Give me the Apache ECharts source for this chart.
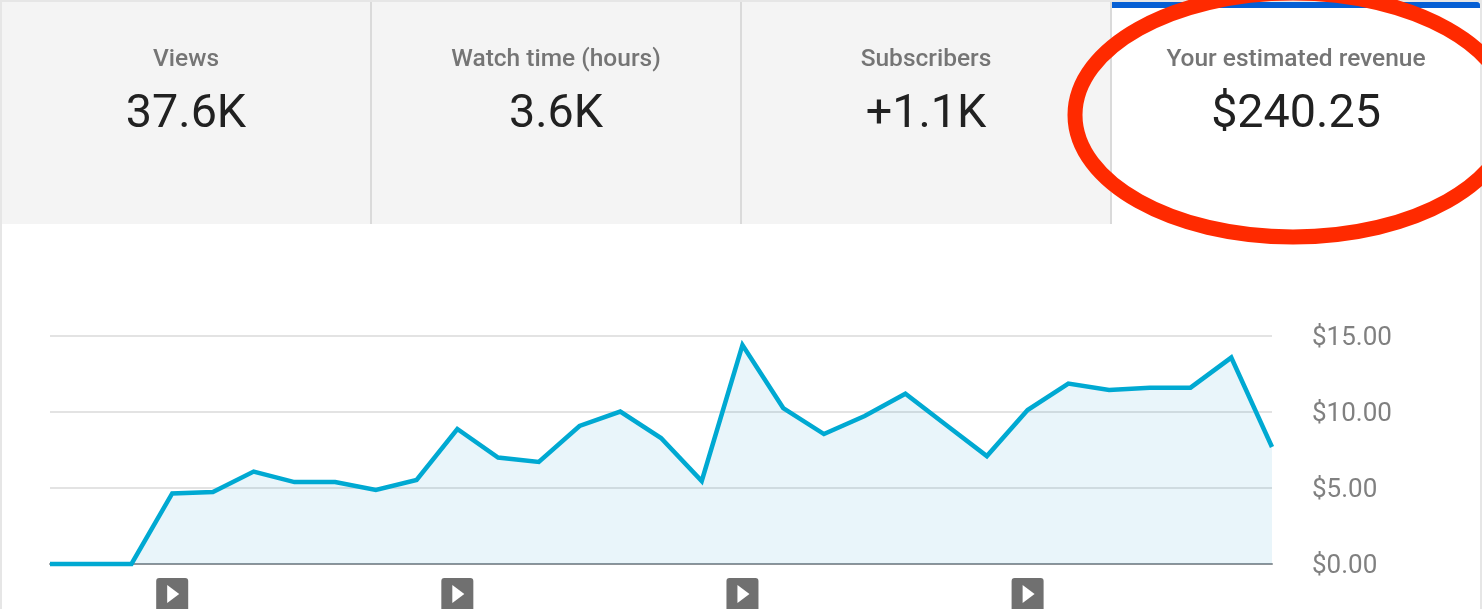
<!DOCTYPE html>
<html>
<head>
<meta charset="utf-8">
<title>Estimated revenue</title>
<style>
    html, body { margin: 0; padding: 0; background: #fff; }
    #chart { width: 1482px; height: 609px; }
</style>
<script src="https://cdn.jsdelivr.net/npm/echarts@6/dist/echarts.min.js"></script>
</head>
<body>
<div id="chart"></div>
<script>
// top tiles
const tileLabels = ['Views', 'Watch time (hours)', 'Subscribers', 'Your estimated revenue'];
const tileValues = ['37.6K', '3.6K', '+1.1K', '$240.25'];

// one value per day
const days = ['1','2','3','4','5','6','7','8','9','10','11','12','13','14','15','16','17','18','19','20','21','22','23','24','25','26','27','28','29','30','31'];
const revenue = [0, 0, 0, 4.64, 4.74, 6.08, 5.39, 5.39, 4.87, 5.53, 8.88, 7.0, 6.71, 9.08, 10.03, 8.29, 5.46, 14.4, 10.26, 8.55, 9.74, 11.2, 9.14, 7.1, 10.13, 11.87, 11.45, 11.6, 11.6, 13.58, 7.7];
const videoDays = ['4', '11', '18', '25'];

const font = 'Roboto';
const tileCenters = [186, 556, 926, 1296];

const chart = echarts.init(document.getElementById('chart'), null, { renderer: 'canvas' });

const tileGraphics = [
    { type: 'rect', shape: { x: 0, y: 0, width: 1482, height: 609 }, style: { fill: '#fff' }, z: -10 },
    { type: 'rect', shape: { x: 2, y: 2, width: 1109, height: 222 }, style: { fill: '#f4f4f4' }, z: -9 },
    { type: 'rect', shape: { x: 0, y: 0, width: 1482, height: 2 }, style: { fill: '#e6e6e6' }, z: -8 },
    { type: 'rect', shape: { x: 0, y: 0, width: 2, height: 609 }, style: { fill: '#e6e6e6' }, z: -8 },
    { type: 'rect', shape: { x: 1480, y: 0, width: 2, height: 609 }, style: { fill: '#e6e6e6' }, z: -8 },
    { type: 'rect', shape: { x: 370, y: 2, width: 2, height: 222 }, style: { fill: '#dadada' }, z: -8 },
    { type: 'rect', shape: { x: 740, y: 2, width: 2, height: 222 }, style: { fill: '#dadada' }, z: -8 },
    { type: 'rect', shape: { x: 1110, y: 2, width: 2, height: 222 }, style: { fill: '#dadada' }, z: -8 },
    { type: 'rect', shape: { x: 1112, y: 2, width: 368, height: 6, r: [0, 3, 0, 0] }, style: { fill: '#065fd4' }, z: -8 }
];

tileLabels.forEach((label, i) => {
    tileGraphics.push({
        type: 'text',
        x: tileCenters[i], y: 60,
        style: { text: label, fill: '#757575', font: '500 24.5px ' + font, align: 'center', verticalAlign: 'middle' },
        z: 1
    });
    tileGraphics.push({
        type: 'text',
        x: tileCenters[i], y: 115,
        style: { text: tileValues[i], fill: '#212121', font: '400 46.7px ' + font, align: 'center', verticalAlign: 'middle' },
        z: 1
    });
});

// the red marker round the last tile
tileGraphics.push({
    type: 'ellipse',
    shape: { cx: 1293, cy: 115, rx: 218, ry: 122 },
    style: { fill: 'none', stroke: '#ff2a00', lineWidth: 15 },
    z: 100
});

const option = {
    animation: false,
    backgroundColor: '#fff',
    grid: { left: 50, right: 210, top: 336, bottom: 45 },
    xAxis: {
        type: 'category',
        data: days,
        boundaryGap: false,
        axisLine: { lineStyle: { color: '#8f9498', width: 2 } },
        axisTick: { show: false },
        axisLabel: { show: false }
    },
    yAxis: {
        type: 'value',
        position: 'right',
        min: 0,
        max: 15,
        interval: 5,
        axisLine: { show: false },
        axisTick: { show: false },
        splitLine: { lineStyle: { color: '#e3e3e3', width: 2 } },
        axisLabel: {
            margin: 40,
            formatter: (v) => '{tick|$' + v.toFixed(2) + '}',
            rich: {
                // the padding pushes the text 2px below the grid line
                tick: { color: '#808080', fontFamily: font, fontSize: 26, padding: [4, 0, 0, 0] }
            }
        }
    },
    series: [
        {
            type: 'line',
            data: revenue,
            showSymbol: false,
            clip: false,
            lineStyle: { color: '#00a9d2', width: 4.5, join: 'miter' },
            areaStyle: { color: '#23a0cd', opacity: 0.1 },
            z: 3
        },
        {
            // play buttons under the axis
            type: 'custom',
            coordinateSystem: 'cartesian2d',
            clip: false,
            silent: true,
            data: videoDays.map((d) => [d, 0]),
            renderItem: (params, api) => {
                const p = api.coord([api.value(0), 0]);
                return {
                    type: 'group',
                    children: [
                        {
                            type: 'rect',
                            shape: { x: p[0] - 16, y: p[1] + 14, width: 32, height: 36, r: 3 },
                            style: { fill: '#707070' }
                        },
                        {
                            type: 'polygon',
                            shape: { points: [[p[0] - 5, p[1] + 21], [p[0] + 7, p[1] + 30], [p[0] - 5, p[1] + 39]] },
                            style: { fill: '#fff' }
                        }
                    ]
                };
            },
            encode: { x: 0, y: 1 },
            z: 4
        }
    ],
    graphic: { elements: tileGraphics }
};

chart.setOption(option);
</script>
</body>
</html>
